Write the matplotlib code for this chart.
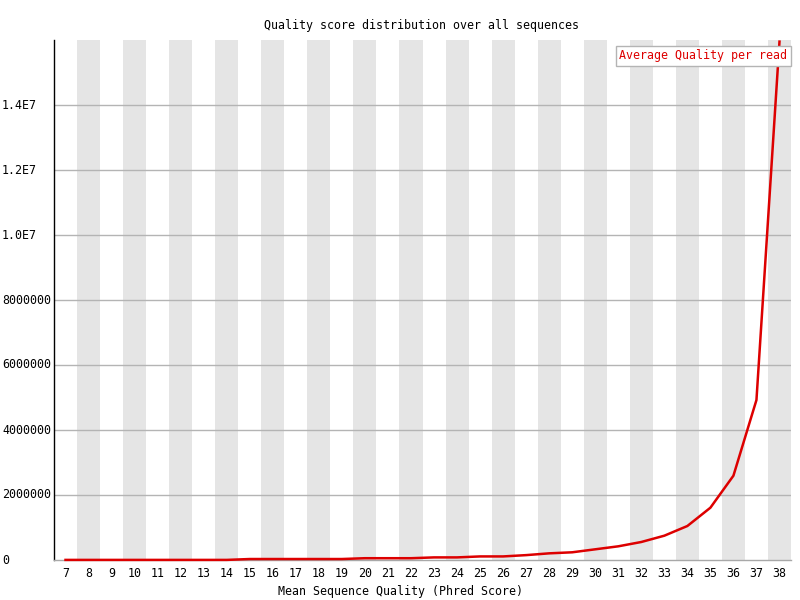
import matplotlib
matplotlib.use("Agg")
import matplotlib.pyplot as plt
from matplotlib.transforms import blended_transform_factory

quality = list(range(7, 39))
counts = [3000, 3000, 3000, 3000, 3000, 3000, 3000, 3000,
          30000, 30000, 30000, 30000, 30000,
          55000, 55000, 55000, 80000, 80000, 110000, 110000,
          150000, 205000, 237000, 329000, 421000, 554000, 748000,
          1046000, 1609000, 2594000, 4923000, 15950000]
ytick_vals = [0, 2000000, 4000000, 6000000, 8000000, 10000000, 12000000, 14000000]
ytick_labels = ["0", "2000000", "4000000", "6000000", "8000000", "1.0E7", "1.2E7", "1.4E7"]
title = "Quality score distribution over all sequences"
xlabel = "Mean Sequence Quality (Phred Score)"
legend_label = "Average Quality per read"

FONT = "DejaVu Sans Mono"
FS = 8.4
W, H = 800, 600
fig = plt.figure(figsize=(8, 6), dpi=100)
left, right, top, bottom = 54, 791, 40, 560
ax = fig.add_axes([left / W, 1 - bottom / H, (right - left) / W, (bottom - top) / H])

n = len(quality)
ax.set_xlim(-0.5, n - 0.5)
ax.set_ylim(0, 16000000)

for i, q in enumerate(quality):
    if q % 2 == 0:
        ax.axvspan(i - 0.5, i + 0.5, color="#e5e5e5", lw=0, zorder=0)

for v in ytick_vals[1:]:
    ax.axhline(v, color="#b4b4b4", lw=1, zorder=1)

ax.plot(range(n), counts, color="#dd0000", lw=1.8, zorder=3, clip_on=False)

for s in ["top", "right"]:
    ax.spines[s].set_visible(False)
ax.spines["left"].set_color("black")
ax.spines["bottom"].set_color("#a8a8a8")
ax.spines["left"].set_linewidth(1)
ax.spines["bottom"].set_linewidth(1)

ax.set_xticks(range(n))
ax.set_xticklabels([str(q) for q in quality], fontfamily=FONT, fontsize=FS)
ax.tick_params(axis="x", length=0, pad=5)
ax.set_yticks([])

trans = blended_transform_factory(fig.transFigure, ax.transData)
for v, lab in zip(ytick_vals, ytick_labels):
    fig.text(2 / W, v, lab, transform=trans, ha="left", va="center",
             fontfamily=FONT, fontsize=FS)

fig.text(422 / W, 1 - 25 / H, title, ha="center", va="center", fontfamily=FONT, fontsize=FS)
fig.text(400 / W, 1 - 591 / H, xlabel, ha="center", va="center", fontfamily=FONT, fontsize=FS)

fig.text(703 / W, 1 - 55.5 / H, legend_label, ha="center", va="center", color="#dd0000",
         fontfamily=FONT, fontsize=FS,
         bbox=dict(boxstyle="square,pad=0.3", fc="white", ec="#b4b4b4", lw=1))

fig.savefig("out.png", dpi=100)
